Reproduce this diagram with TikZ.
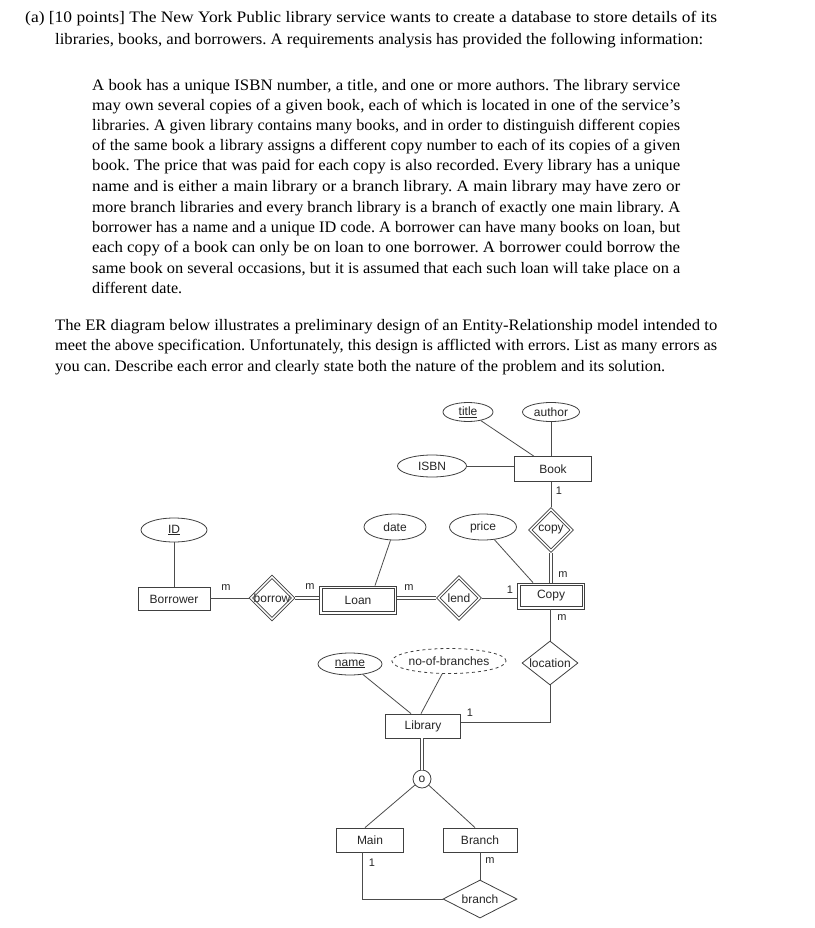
\documentclass[tikz,border=0pt]{standalone}
\usepackage{fontspec}
\setmainfont{Liberation Serif}
\newfontfamily\diagfont{Liberation Sans}
\usetikzlibrary{shapes.geometric}
\newcommand\fitline[2]{\resizebox{#1}{\height}{#2}}
\begin{document}
\frenchspacing
\begin{tikzpicture}[x=1pt,y=-1pt,
  txt/.style={anchor=base west,inner sep=0pt,font=\fontsize{16}{20}\selectfont},
  dg/.style={font=\diagfont\fontsize{12}{14}\selectfont,text=black!85},
  ent/.style={dg,draw=black!75,line width=0.8pt,rectangle,inner sep=0pt},
  attr/.style={dg,draw=black!75,line width=0.8pt,ellipse,inner sep=0pt},
  rel/.style={dg,draw=black!75,line width=0.8pt,diamond,inner sep=0pt},
  every label/.style={dg,inner sep=0pt},
  inner/.style={draw=black!75,line width=0.8pt},
  dbl/.style={double=white,double distance=2pt},
  conn/.style={draw=black!70,line width=0.8pt},
  card/.style={dg,inner sep=0pt,font=\diagfont\fontsize{11}{13}\selectfont}
]
\useasboundingbox (0,0) rectangle (814,928);
\fill[white] (0,0) rectangle (814,928);

% ---------- text ----------
\node[txt] (l1) at (25,23) {\fitline{692pt}{(a) [10 points] The New York Public library service wants to create a database to store details of its}};
\node[txt] (l2) at (55,45) {\fitline{648pt}{libraries, books, and borrowers. A requirements analysis has provided the following information:}};

\node[txt] (p1) at (92,91) {\fitline{588pt}{A book has a unique ISBN number, a title, and one or more authors. The library service}};
\node[txt] (p2) at (92,111) {\fitline{588pt}{may own several copies of a given book, each of which is located in one of the service's}};
\node[txt] (p3) at (92,131) {\fitline{588pt}{libraries. A given library contains many books, and in order to distinguish different copies}};
\node[txt] (p4) at (92,151) {\fitline{588pt}{of the same book a library assigns a different copy number to each of its copies of a given}};
\node[txt] (p5) at (92,171) {\fitline{588pt}{book. The price that was paid for each copy is also recorded. Every library has a unique}};
\node[txt] (p6) at (92,191) {\fitline{588pt}{name and is either a main library or a branch library. A main library may have zero or}};
\node[txt] (p7) at (92,212) {\fitline{588pt}{more branch libraries and every branch library is a branch of exactly one main library. A}};
\node[txt] (p8) at (92,232) {\fitline{588pt}{borrower has a name and a unique ID code. A borrower can have many books on loan, but}};
\node[txt] (p9) at (92,252) {\fitline{588pt}{each copy of a book can only be on loan to one borrower. A borrower could borrow the}};
\node[txt] (p10) at (92,273) {\fitline{588pt}{same book on several occasions, but it is assumed that each such loan will take place on a}};
\node[txt] (p11) at (92,293) {\fitline{90pt}{different date.}};

\node[txt] (q1) at (55,330) {\fitline{662pt}{The ER diagram below illustrates a preliminary design of an Entity-Relationship model intended to}};
\node[txt] (q2) at (55,350) {\fitline{662pt}{meet the above specification. Unfortunately, this design is afflicted with errors. List as many errors as}};
\node[txt] (q3) at (55,371) {\fitline{610pt}{you can. Describe each error and clearly state both the nature of the problem and its solution.}};

% ---------- diagram nodes ----------
\node[attr,minimum width=50pt,minimum height=19pt] (title) at (468,412) {\underline{title}};
\node[attr,minimum width=57pt,minimum height=19pt] (author) at (551,412) {author};
\node[attr,minimum width=69pt,minimum height=22pt] (ISBN) at (432,466) {ISBN};
\node[ent,minimum width=77pt,minimum height=25pt] (Book) at (553,469) {Book};

\node[rel,minimum width=45pt,minimum height=45pt,label={center:copy}] (copy) at (551,530) {};
\node[ent,minimum width=67pt,minimum height=26pt] (Copy) at (551,596) {Copy};
\node[attr,minimum width=67pt,minimum height=26pt] (price) at (483,527) {price};
\node[rel,minimum width=45pt,minimum height=45pt,label={center:lend}] (lend) at (459,598) {};
\node[ent,minimum width=77pt,minimum height=28pt] (Loan) at (358,600) {Loan};
\node[attr,minimum width=62pt,minimum height=26pt] (date) at (395,527) {date};
\node[rel,minimum width=46pt,minimum height=46pt,label={center:borrow}] (borrow) at (272,598) {};
\node[ent,minimum width=72pt,minimum height=23pt] (Borrower) at (174,599) {Borrower};
\node[attr,minimum width=66pt,minimum height=24pt] (ID) at (174,530) {\underline{ID}};

\node[attr,minimum width=64pt,minimum height=22pt] (name) at (350,664) {\underline{name}};
\node[attr,dashed,minimum width=112pt,minimum height=25pt] (nob) at (449,661) {no-of-branches};
\node[rel,minimum width=56pt,minimum height=44pt,label={center:location}] (location) at (550,663) {};
\node[ent,minimum width=75pt,minimum height=24pt] (Library) at (423,726) {Library};
\node[dg,draw=black!75,line width=0.8pt,circle,minimum size=18pt,inner sep=0pt] (circ) at (422,779) {o};
\node[ent,minimum width=67pt,minimum height=24pt] (Main) at (370,840) {Main};
\node[ent,minimum width=74pt,minimum height=24pt] (Branch) at (480,840) {Branch};
\node[rel,minimum width=74pt,minimum height=38pt,label={center:branch}] (branchrel) at (480,899) {};

% inner outlines of weak entities and identifying relationships
\foreach \b in {Copy,Loan}
  \draw[inner] ([shift={(2.8pt,-2.8pt)}]\b.north west) rectangle ([shift={(-2.8pt,2.8pt)}]\b.south east);
\foreach \d in {copy,lend,borrow}
  \draw[inner] ([yshift=-4pt]\d.north) -- ([xshift=-4pt]\d.east) -- ([yshift=4pt]\d.south) -- ([xshift=4pt]\d.west) -- cycle;

% ---------- cardinality labels ----------
\node[card] (mBor) at (226,588) {m};
\node[card] (mLoanL) at (310,587) {m};
\node[card] (mLoanR) at (409,588) {m};
\node[card] (oneCopy) at (510,590) {1};
\node[card] (oneBook) at (559,491) {1};
\node[card] (mCopyT) at (563,575) {m};
\node[card] (mCopyB) at (562,618) {m};
\node[card] (oneLib) at (470,713) {1};
\node[card] (oneMain) at (372,863) {1};
\node[card] (mBranch) at (490,861) {m};

% ---------- connectors ----------
\draw[conn] (title) -- (Book);
\draw[conn] (author.south) -- (author.south |- Book.north);
\draw[conn] (ISBN.east) -- (ISBN.east -| Book.west);
\draw[conn] (copy.north |- Book.south) -- (copy.north);
\draw[conn,dbl] (copy.south) -- (Copy.north);
\draw[conn] (price) -- ([xshift=-18pt]Copy.north);
\draw[conn] (lend.east) -- (lend.east -| Copy.west);
\draw[conn,dbl] (Loan.east |- lend.west) -- (lend.west);
\draw[conn] (date) -- ([xshift=17pt]Loan.north);
\draw[conn,dbl] (borrow.east) -- (borrow.east -| Loan.west);
\draw[conn] (Borrower.east |- borrow.west) -- (borrow.west);
\draw[conn] (ID.south) -- (ID.south |- Borrower.north);
\draw[conn] (name) -- ([xshift=-12pt]Library.north);
\draw[conn] (nob) -- ([xshift=-2pt]Library.north);
\draw[conn] (Copy.south -| location.north) -- (location.north);
\draw[conn] (location.south) |- ([yshift=4pt]Library.east);
\draw[conn,dbl] (Library.south -| circ.north) -- (circ.north);
\draw[conn] (circ) -- ([xshift=-5pt]Main.north);
\draw[conn] (circ) -- ([xshift=-5pt]Branch.north);
\draw[conn] (Branch.south) -- (branchrel.north);
\draw[conn] ([xshift=-8pt]Main.south) |- (branchrel.west);
\end{tikzpicture}
\end{document}
